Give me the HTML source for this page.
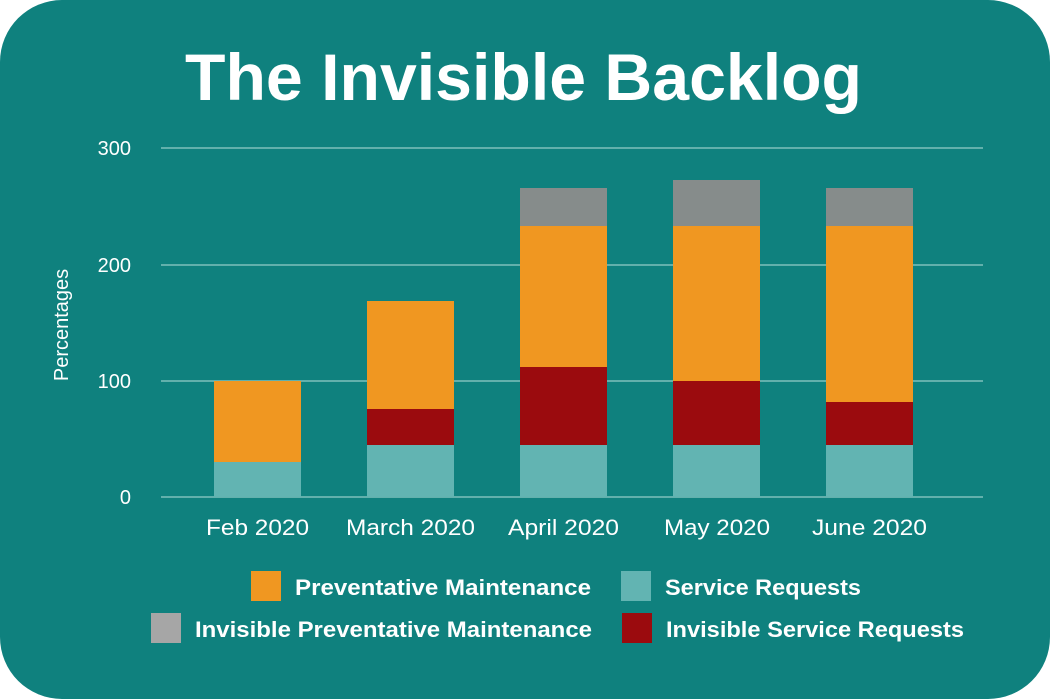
<!DOCTYPE html>
<html><head><style>
body{margin:0;background:#fff;}
svg{display:block;}
text{font-family:"Liberation Sans",sans-serif;fill:#fff;}
</style></head><body>
<svg width="1050" height="699" xmlns="http://www.w3.org/2000/svg">
<rect x="0" y="0" width="1050" height="699" rx="62" fill="#0F817E"/>
<text x="185" y="100" textLength="677" lengthAdjust="spacingAndGlyphs" font-size="66" font-weight="bold">The Invisible Backlog</text>
<g stroke="#7fbfbc" stroke-width="1.5">
<line x1="161" y1="148" x2="983" y2="148"/>
<line x1="161" y1="265" x2="983" y2="265"/>
<line x1="161" y1="381" x2="983" y2="381"/>
<line x1="161" y1="497" x2="983" y2="497"/>
</g>
<g font-size="20" text-anchor="end">
<text x="131" y="155">300</text>
<text x="131" y="272">200</text>
<text x="131" y="388">100</text>
<text x="131" y="504">0</text>
</g>
<text transform="translate(68,325) rotate(-90)" text-anchor="middle" font-size="20">Percentages</text>
<rect x="214" y="462" width="87" height="35" fill="#62B4B2"/>
<rect x="214" y="381" width="87" height="81" fill="#F09721"/>
<rect x="367" y="445" width="87" height="52" fill="#62B4B2"/>
<rect x="367" y="409" width="87" height="36" fill="#9B0B0E"/>
<rect x="367" y="301" width="87" height="108" fill="#F09721"/>
<rect x="520" y="445" width="87" height="52" fill="#62B4B2"/>
<rect x="520" y="367" width="87" height="78" fill="#9B0B0E"/>
<rect x="520" y="226" width="87" height="141" fill="#F09721"/>
<rect x="520" y="188" width="87" height="38" fill="#868C8B"/>
<rect x="673" y="445" width="87" height="52" fill="#62B4B2"/>
<rect x="673" y="381" width="87" height="64" fill="#9B0B0E"/>
<rect x="673" y="226" width="87" height="155" fill="#F09721"/>
<rect x="673" y="180" width="87" height="46" fill="#868C8B"/>
<rect x="826" y="445" width="87" height="52" fill="#62B4B2"/>
<rect x="826" y="402" width="87" height="43" fill="#9B0B0E"/>
<rect x="826" y="226" width="87" height="176" fill="#F09721"/>
<rect x="826" y="188" width="87" height="38" fill="#868C8B"/>
<g font-size="22">
<text x="206" y="535" textLength="103" lengthAdjust="spacingAndGlyphs">Feb 2020</text>
<text x="346" y="535" textLength="129" lengthAdjust="spacingAndGlyphs">March 2020</text>
<text x="508" y="535" textLength="111" lengthAdjust="spacingAndGlyphs">April 2020</text>
<text x="664" y="535" textLength="106" lengthAdjust="spacingAndGlyphs">May 2020</text>
<text x="812" y="535" textLength="115" lengthAdjust="spacingAndGlyphs">June 2020</text>
</g>
<g font-size="22" font-weight="bold">
<rect x="251" y="571" width="30" height="30" fill="#F09721"/>
<text x="295" y="595" textLength="296" lengthAdjust="spacingAndGlyphs">Preventative Maintenance</text>
<rect x="621" y="571" width="30" height="30" fill="#62B4B2"/>
<text x="665" y="595" textLength="196" lengthAdjust="spacingAndGlyphs">Service Requests</text>
<rect x="151" y="613" width="30" height="30" fill="#A6A6A6"/>
<text x="195" y="637" textLength="397" lengthAdjust="spacingAndGlyphs">Invisible Preventative Maintenance</text>
<rect x="622" y="613" width="30" height="30" fill="#9B0B0E"/>
<text x="666" y="637" textLength="298" lengthAdjust="spacingAndGlyphs">Invisible Service Requests</text>
</g>
</svg>
</body></html>
